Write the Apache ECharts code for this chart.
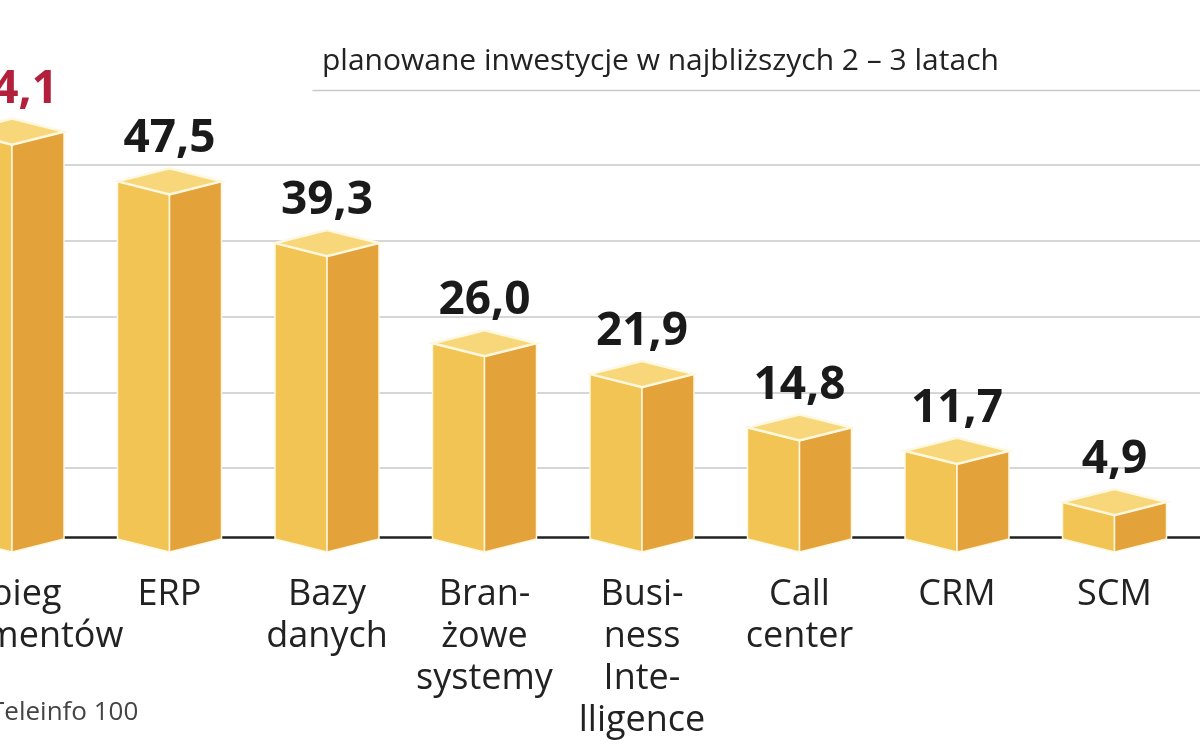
<!DOCTYPE html>
<html>
<head>
<meta charset="utf-8">
<script src="https://cdn.jsdelivr.net/npm/echarts@6/dist/echarts.min.js"></script>
<style>
html, body { margin: 0; padding: 0; background: #fff; }
#chart { width: 1200px; height: 750px; }
</style>
</head>
<body>
<div id="chart"></div>
<script>
// kategorie i wartości (%)
const categories = ['Obieg\ndokumentów', 'ERP', 'Bazy\ndanych', 'Bran-\nżowe\nsystemy', 'Busi-\nness\nInte-\nlligence', 'Call\ncenter', 'CRM', 'SCM'];
const values = [54.1, 47.5, 39.3, 26.0, 21.9, 14.8, 11.7, 4.9];
const valueLabels = ['54,1', '47,5', '39,3', '26,0', '21,9', '14,8', '11,7', '4,9'];
// linie siatki (w jednostkach osi)
const gridLevels = [11.2, 21.2, 31.3, 41.3, 51.4];
const baseLevel = 1.9;

const chart = echarts.init(document.getElementById('chart'));

// słupek 3D: lewa ściana jasna, prawa ciemniejsza, romb na górze
function renderBox(params, api) {
	const i = api.value(0);
	const top = api.coord([i, api.value(1)]);
	const base = api.coord([i, 0]);
	const cx = top[0], ty = top[1], by = base[1];
	const w = 52, d = 13;
	const edge = { stroke: '#fff8e0', lineWidth: 1.5 };
	return {
		type: 'group',
		children: [
			{ type: 'polygon', shape: { points: [[cx - w, ty - d], [cx, ty], [cx, by], [cx - w, by - d]] },
				style: Object.assign({ fill: '#f2c453' }, edge) },
			{ type: 'polygon', shape: { points: [[cx, ty], [cx + w, ty - d], [cx + w, by - d], [cx, by]] },
				style: Object.assign({ fill: '#e3a23a' }, edge) },
			{ type: 'polygon', shape: { points: [[cx - w, ty - d], [cx, ty - 2 * d], [cx + w, ty - d], [cx, ty]] },
				style: Object.assign({ fill: '#f8d77a' }, edge, { lineWidth: 2.5 }) },
			{ type: 'text', x: cx, y: ty - 2 * d - 6,
				style: { text: valueLabels[i], fill: i === 0 ? '#b3203c' : '#1a1a1a', font: 'bold 46px "Open Sans", sans-serif',
					align: 'center', verticalAlign: 'bottom' } },
			{ type: 'text', x: cx, y: by + 22,
				style: { text: categories[i], fill: '#222', font: '36px "Open Sans", sans-serif', lineHeight: 42,
					align: 'center', verticalAlign: 'top' } }
		]
	};
}

const option = {
	animation: false,
	grid: { left: 0, right: 0, top: 40, bottom: 198 },
	xAxis: {
		type: 'value',
		min: -12 / 157.5,
		max: 1188 / 157.5,
		show: false,
		splitLine: { show: false }
	},
	yAxis: {
		type: 'value',
		min: 0,
		max: 68,
		show: false,
		splitLine: { show: false }
	},
	series: [
		{
			type: 'line',
			data: [],
			markLine: {
				silent: true,
				symbol: 'none',
				label: { show: false },
				data: gridLevels.map(v => ({ yAxis: v, lineStyle: { color: '#c8c8c8', width: 1.5, type: 'solid' } }))
					.concat([{ yAxis: baseLevel, lineStyle: { color: '#222', width: 2.5, type: 'solid' } }])
			}
		},
		{
			type: 'custom',
			renderItem: renderBox,
			data: values.map((v, i) => [i, v]),
			clip: false,
			z: 5
		}
	],
	graphic: [
		{ type: 'line', left: 310, top: 88, shape: { x1: 0, y1: 0, x2: 900, y2: 0 }, style: { stroke: '#c8c8c8', lineWidth: 1.5 } },
		{ type: 'text', left: 322, top: 46,
			style: { text: 'planowane inwestycje w najbliższych 2 – 3 latach', fill: '#222', font: '30px "Open Sans", sans-serif' } },
		{ type: 'text', left: -10, top: 700,
			style: { text: 'Teleinfo 100', fill: '#444', font: '26px "Open Sans", sans-serif' } }
	]
};
chart.setOption(option);
</script>
</body>
</html>
